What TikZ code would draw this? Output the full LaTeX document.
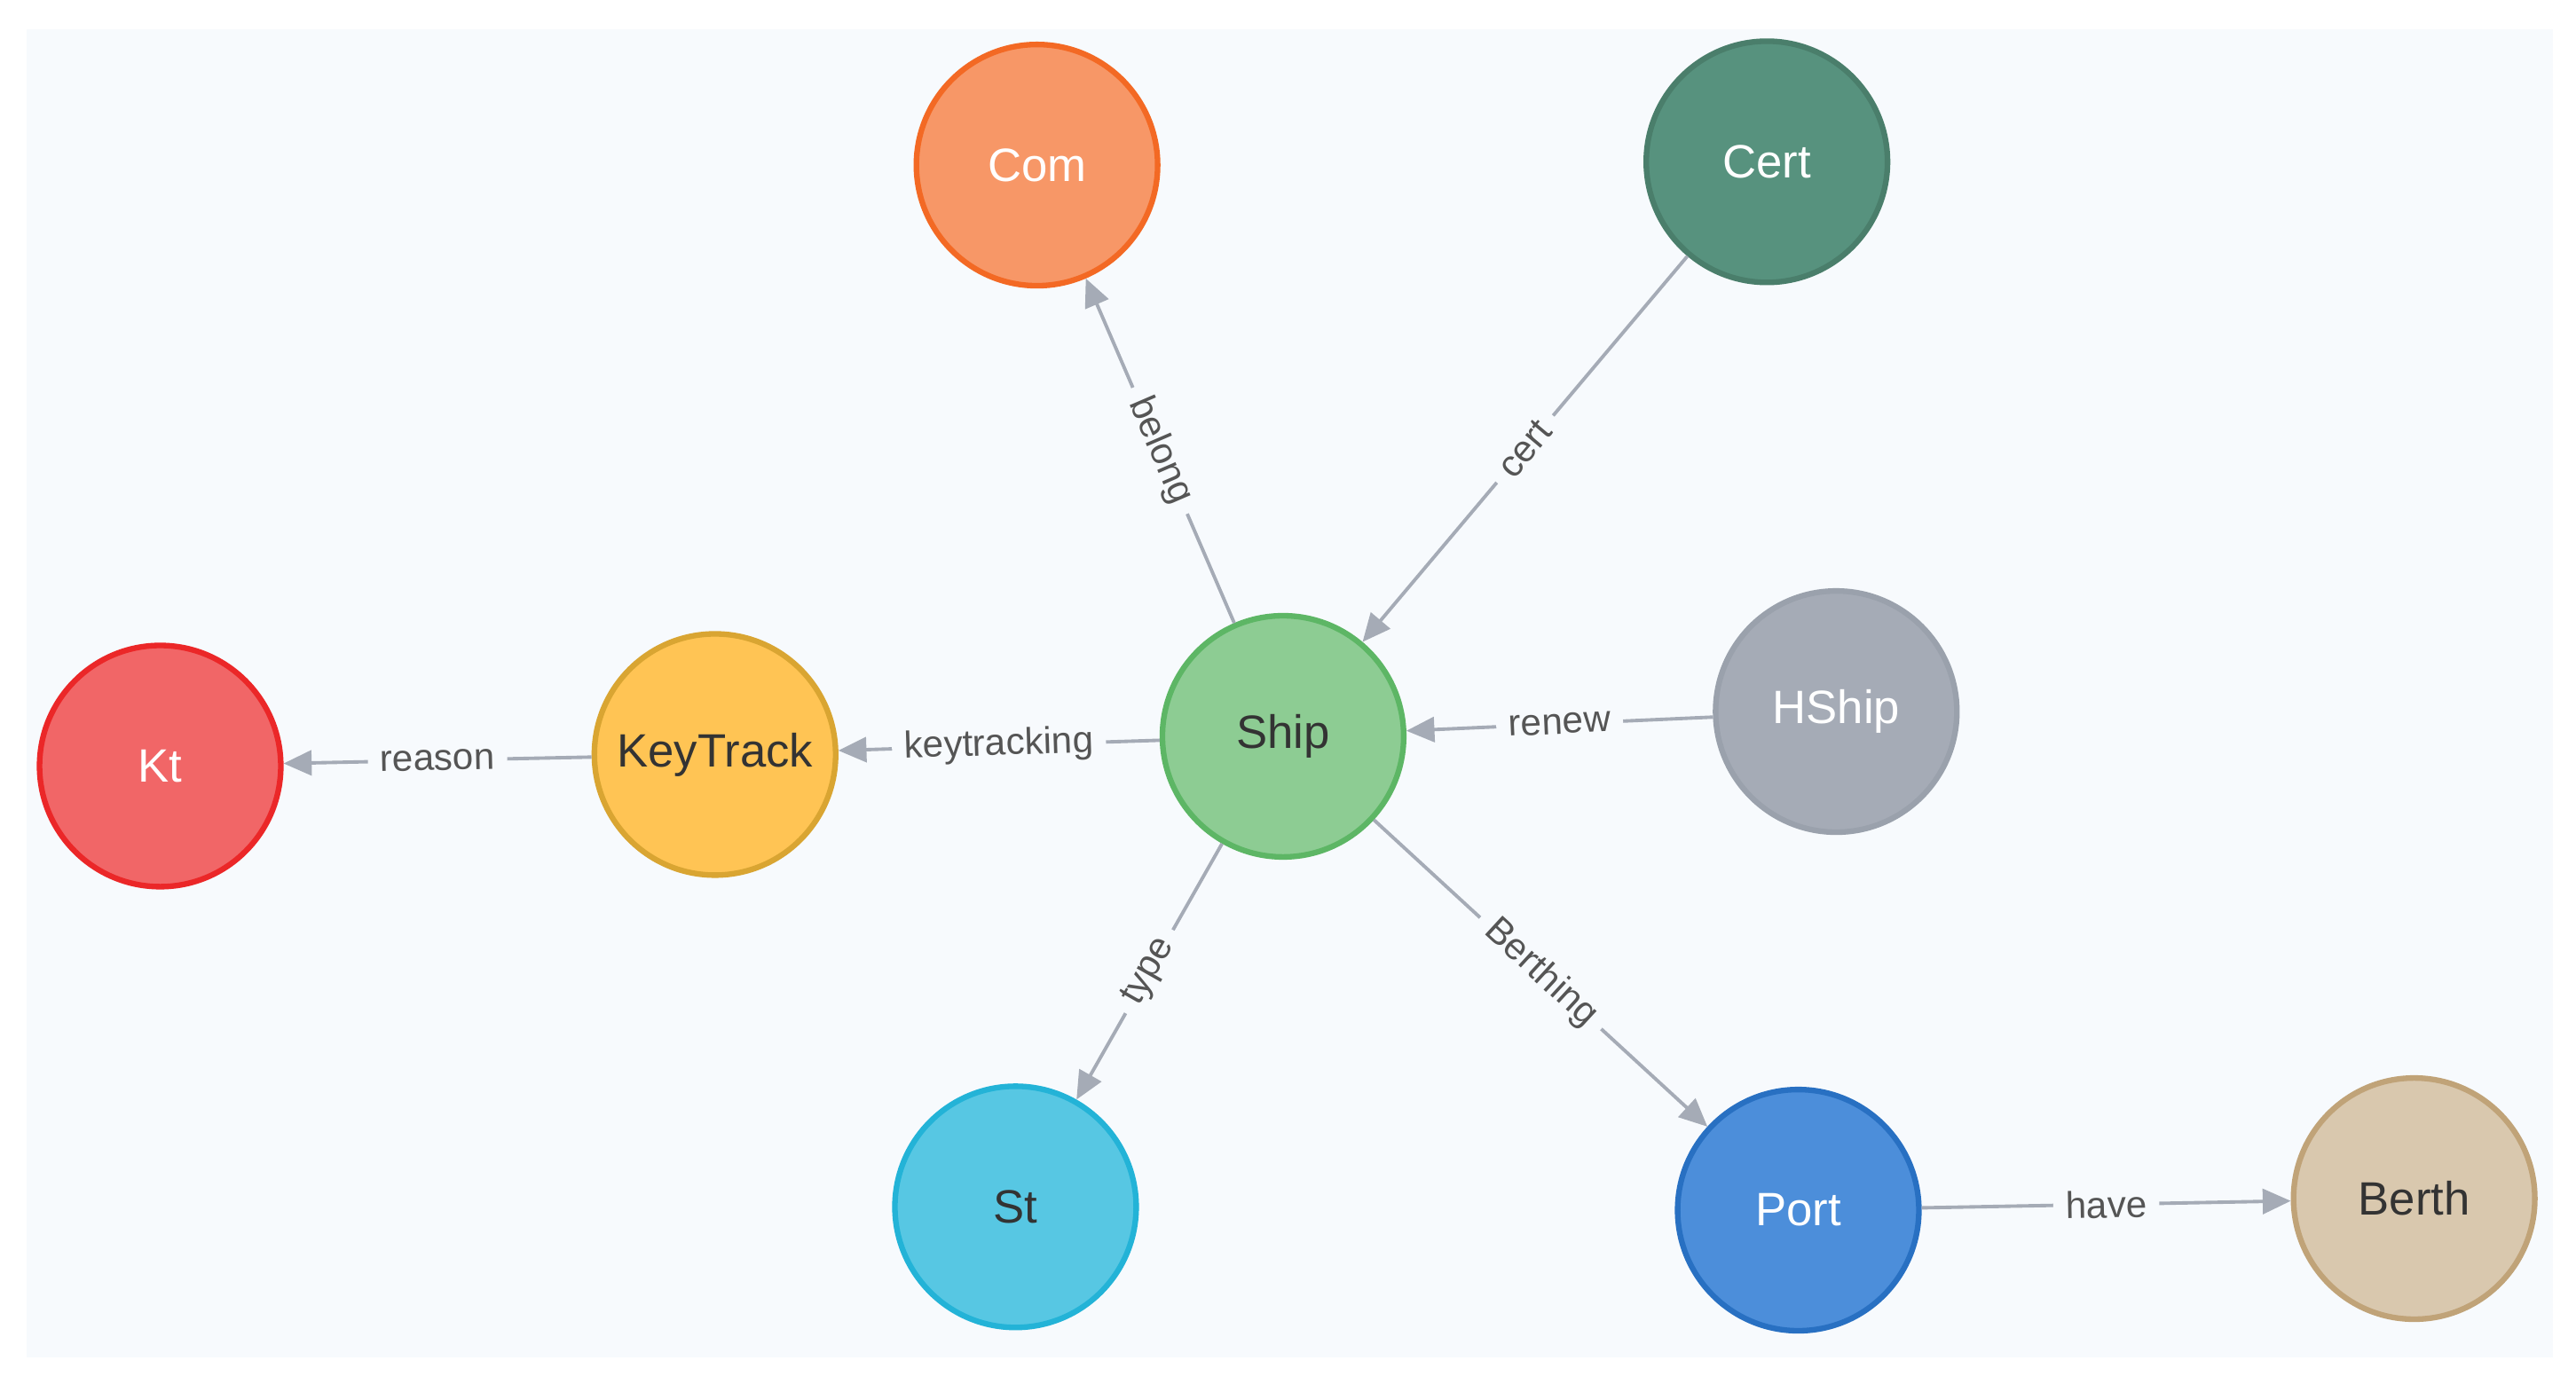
\documentclass[tikz,border=0pt]{standalone}
\usepackage{fontspec}
\setmainfont{Liberation Sans}
\usetikzlibrary{arrows.meta}
\definecolor{bg}{HTML}{F7FAFD}
\definecolor{edge}{HTML}{A5ABB6}
\definecolor{lbl}{HTML}{555555}
\definecolor{dark}{HTML}{333333}
\begin{document}
\begin{tikzpicture}[x=0.01861cm,y=-0.01861cm,
  nd/.style={circle,minimum size=2.72cm,inner sep=0pt,line width=1.8pt,font=\fontsize{15}{15}\selectfont},
  ed/.style={draw=edge,line width=1.1pt,-{Triangle[length=9pt,width=8pt]}},
  lb/.style={sloped,fill=bg,text=lbl,inner sep=4pt,font=\fontsize{12}{12}\selectfont}]
\useasboundingbox (0,0) rectangle (1560,838);
\fill[white] (0,0) rectangle (1560,838);
\fill[bg] (16,18) rectangle (1546,822);
\node[nd,fill={rgb,255:red,247;green,151;blue,103},draw={rgb,255:red,243;green,105;blue,36},text=white] (com) at (628,100) {Com};
\node[nd,fill={rgb,255:red,87;green,146;blue,126},draw={rgb,255:red,74;green,126;blue,107},text=white] (cert) at (1070,98) {Cert};
\node[nd,fill={rgb,255:red,141;green,204;blue,147},draw={rgb,255:red,93;green,182;blue,101},text=dark] (ship) at (777,446) {Ship};
\node[nd,fill={rgb,255:red,165;green,171;blue,182},draw={rgb,255:red,154;green,161;blue,172},text=white] (hship) at (1112,431) {HShip};
\node[nd,fill={rgb,255:red,255;green,196;blue,84},draw={rgb,255:red,217;green,165;blue,50},text=dark] (kt2) at (433,457) {KeyTrack};
\node[nd,fill={rgb,255:red,241;green,102;blue,103},draw={rgb,255:red,235;green,39;blue,40},text=white] (kt) at (97,464) {Kt};
\node[nd,fill={rgb,255:red,87;green,199;blue,227},draw={rgb,255:red,35;green,179;blue,215},text=dark] (st) at (615,731) {St};
\node[nd,fill={rgb,255:red,76;green,142;blue,218},draw={rgb,255:red,40;green,112;blue,194},text=white] (port) at (1089,733) {Port};
\node[nd,fill={rgb,255:red,217;green,200;blue,174},draw={rgb,255:red,192;green,163;blue,120},text=dark] (berth) at (1462,726) {Berth};
\draw[ed] (ship) -- node[lb]{belong} (com);
\draw[ed] (cert) -- node[lb]{cert} (ship);
\draw[ed] (hship) -- node[lb]{renew} (ship);
\draw[ed] (ship) -- node[lb]{keytracking} (kt2);
\draw[ed] (kt2) -- node[lb]{reason} (kt);
\draw[ed] (ship) -- node[lb]{type} (st);
\draw[ed] (ship) -- node[lb]{Berthing} (port);
\draw[ed] (port) -- node[lb]{have} (berth);
\end{tikzpicture}
\end{document}
